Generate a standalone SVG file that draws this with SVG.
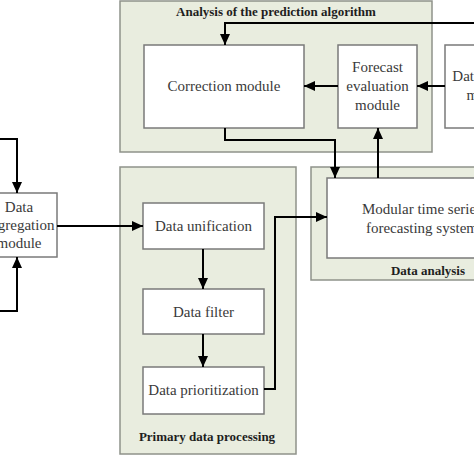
<svg xmlns="http://www.w3.org/2000/svg" width="474" height="474" viewBox="0 0 474 474">
<style>
.grp{fill:#e9eddf;stroke:#8f928a;stroke-width:1.5}
.box{fill:#ffffff;stroke:#7a7a7a;stroke-width:1.5}
.t{font-family:"Liberation Serif","Times New Roman",serif;font-size:15px;fill:#3a3a3a;text-anchor:middle}
.h{font-family:"Liberation Serif","Times New Roman",serif;font-size:13px;font-weight:bold;fill:#1e1e1e;text-anchor:middle}
.c{fill:none;stroke:#000;stroke-width:2}
</style>
<defs>
<marker id="ah" markerUnits="userSpaceOnUse" markerWidth="12" markerHeight="10" refX="11" refY="5" orient="auto">
<path d="M0,0 L11,5 L0,10 Z" fill="#000"/>
</marker>
</defs>
<rect width="474" height="474" fill="#ffffff"/>

<g id="group-analysis">
<rect class="grp" x="120" y="1" width="312" height="151"/>
<text class="h" x="276" y="16">Analysis of the prediction algorithm</text>
</g>
<g id="group-primary">
<rect class="grp" x="120" y="167" width="176" height="287"/>
<text class="h" x="207" y="441">Primary data processing</text>
</g>
<g id="group-data-analysis">
<rect class="grp" x="311" y="167" width="175" height="113"/>
<text class="h" x="428" y="275">Data analysis</text>
</g>

<g id="correction">
<rect class="box" x="144" y="45" width="160" height="83"/>
<text class="t" x="224" y="91">Correction module</text>
</g>
<g id="forecast-eval">
<rect class="box" x="338" y="45" width="79" height="83"/>
<text class="t" x="377.5" y="72">Forecast</text>
<text class="t" x="377.5" y="91">evaluation</text>
<text class="t" x="377.5" y="110">module</text>
</g>
<g id="data-storage">
<rect class="box" x="445" y="45" width="80" height="83"/>
<text class="t" x="490" y="81">Data storage</text>
<text class="t" x="489" y="100">module</text>
</g>
<g id="modular">
<rect class="box" x="327" y="178" width="178" height="80"/>
<text class="t" x="422" y="214">Modular time series</text>
<text class="t" x="422" y="233">forecasting system</text>
</g>
<g id="aggregation">
<rect class="box" x="-17" y="193" width="74" height="64"/>
<text class="t" x="19" y="212">Data</text>
<text class="t" x="19" y="230">aggregation</text>
<text class="t" x="19" y="248">module</text>
</g>
<g id="unification">
<rect class="box" x="143" y="203" width="121" height="46"/>
<text class="t" x="203.5" y="231">Data unification</text>
</g>
<g id="filter">
<rect class="box" x="143" y="289" width="121" height="45"/>
<text class="t" x="203.5" y="317">Data filter</text>
</g>
<g id="prioritization">
<rect class="box" x="143" y="367" width="121" height="47"/>
<text class="t" x="203.5" y="395">Data prioritization</text>
</g>

<g id="connectors">
<path class="c" d="M0,139 H17 V193" marker-end="url(#ah)"/>
<path class="c" d="M0,311 H17 V257" marker-end="url(#ah)"/>
<path class="c" d="M57,226 H143" marker-end="url(#ah)"/>
<path class="c" d="M203,249 V289" marker-end="url(#ah)"/>
<path class="c" d="M203,334 V367" marker-end="url(#ah)"/>
<path class="c" d="M264,389 H275 V217 H327" marker-end="url(#ah)"/>
<path class="c" d="M225,128 V140 H335 V178" marker-end="url(#ah)"/>
<path class="c" d="M378,178 V128" marker-end="url(#ah)"/>
<path class="c" d="M338,86 H304" marker-end="url(#ah)"/>
<path class="c" d="M445,86 H417" marker-end="url(#ah)"/>
<path class="c" d="M474,23 H225 V45" marker-end="url(#ah)"/>
</g>
</svg>
